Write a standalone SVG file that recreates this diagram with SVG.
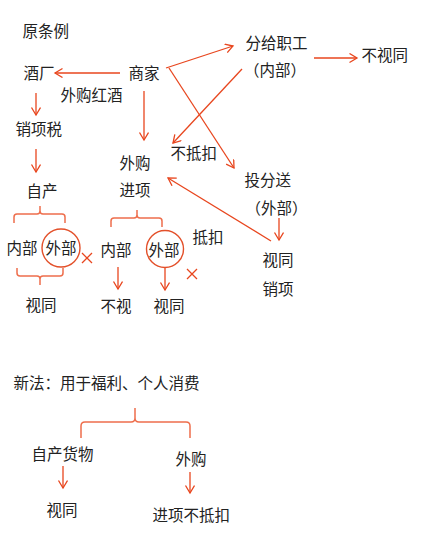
<svg xmlns="http://www.w3.org/2000/svg" width="426" height="538" viewBox="0 0 426 538">
<defs>
<style>
text{font-family:"Noto Sans CJK SC","Noto Sans CJK JP",sans-serif;font-size:15.5px;fill:#222}
.c{text-anchor:middle}
.a{stroke:#E8461E;stroke-width:1.3;fill:none}
.b{stroke:#EE6E4C;stroke-width:1.5;fill:none}
.o{stroke:#E3502A;stroke-width:1.4;fill:none}
</style>
<marker id="ah" markerUnits="userSpaceOnUse" markerWidth="12" markerHeight="12" refX="8" refY="5" orient="auto">
<path d="M0.5,0.5 L8,5 L0.5,9.5" fill="none" stroke="#E8461E" stroke-width="1.3"/>
</marker>
</defs>
<rect width="426" height="538" fill="#fff"/>
<g id="connectors">
<line class="a" x1="120" y1="73" x2="55" y2="73" marker-end="url(#ah)"/>
<line class="a" x1="36" y1="93" x2="36" y2="115" marker-end="url(#ah)"/>
<line class="a" x1="36" y1="149" x2="36" y2="172" marker-end="url(#ah)"/>
<line class="a" x1="144" y1="91" x2="144" y2="140" marker-end="url(#ah)"/>
<line class="a" x1="166" y1="68" x2="233" y2="46" marker-end="url(#ah)"/>
<line class="a" x1="242" y1="69" x2="173" y2="143" marker-end="url(#ah)"/>
<line class="a" x1="169" y1="68" x2="234" y2="168" marker-end="url(#ah)"/>
<line class="a" x1="314" y1="58" x2="357" y2="58" marker-end="url(#ah)"/>
<line class="a" x1="279" y1="218" x2="279" y2="240" marker-end="url(#ah)"/>
<line class="a" x1="271" y1="241" x2="168" y2="178" marker-end="url(#ah)"/>
<line class="a" x1="118" y1="267" x2="118" y2="289" marker-end="url(#ah)"/>
<line class="a" x1="165" y1="268" x2="165" y2="290" marker-end="url(#ah)"/>
<line class="a" x1="63" y1="466" x2="63" y2="488" marker-end="url(#ah)"/>
<line class="a" x1="190" y1="472" x2="190" y2="493" marker-end="url(#ah)"/>
</g>
<g id="brackets">
<path class="b" d="M14,223 L14,217 Q14,214 17,214 L37,214 Q40,214 40,211 L40,206 M40,211 Q40,214 43,214 L62,214 Q65,214 65,217 L65,223"/>
<path class="b" d="M17,268 L17,273 Q17,276 20,276 L37,276 Q40,276 40,279 L40,285 M40,279 Q40,276 43,276 L60,276 Q63,276 63,273 L63,268"/>
<path class="b" d="M111,227 L111,221 Q111,218 114,218 L134,218 Q137,218 137,215 L137,210 M137,215 Q137,218 140,218 L159,218 Q162,218 162,221 L162,227"/>
<path class="b" d="M81,438 L81,426 Q81,422 85,422 L131,422 Q135,422 135,418 L135,408 M135,418 Q135,422 139,422 L186,422 Q190,422 190,426 L190,438"/>
</g>
<g id="marks">
<circle class="o" cx="61" cy="248" r="19"/>
<circle class="o" cx="165" cy="249" r="18.5"/>
<path class="a" d="M82,253 L92,263 M92,253 L82,263"/>
<path class="a" d="M187,269 L197,279 M197,269 L187,279"/>
</g>
<g id="n-title"><text x="22.5" y="37">原条例</text></g>
<g id="n-jiuchang"><text x="23.5" y="79">酒厂</text></g>
<g id="n-shangjia"><text x="128.5" y="79">商家</text></g>
<g id="n-waigouhongjiu"><text x="60.5" y="101">外购红酒</text></g>
<g id="n-xiaoxiangshui"><text x="15.5" y="135">销项税</text></g>
<g id="n-waigou"><text x="119.5" y="169">外购</text></g>
<g id="n-jinxiang"><text x="119.5" y="196">进项</text></g>
<g id="n-zichan"><text x="26.5" y="197">自产</text></g>
<g id="n-neibu1"><text x="6.5" y="254">内部</text></g>
<g id="n-waibu1"><text x="45.5" y="254">外部</text></g>
<g id="n-neibu2"><text x="100.5" y="256">内部</text></g>
<g id="n-waibu2"><text x="148.5" y="256">外部</text></g>
<g id="n-shitong1"><text x="25.5" y="311">视同</text></g>
<g id="n-bushi"><text x="100.5" y="312">不视</text></g>
<g id="n-shitong2"><text x="153.5" y="312">视同</text></g>
<g id="n-dikou"><text x="192.5" y="243">抵扣</text></g>
<g id="n-budikou"><text x="170.5" y="159">不抵扣</text></g>
<g id="n-fengei"><text x="245.5" y="49">分给职工</text><text class="c" x="275" y="76">（内部）</text></g>
<g id="n-bushitong"><text x="361.5" y="61">不视同</text></g>
<g id="n-toufensong"><text x="244.5" y="186">投分送</text><text class="c" x="276.5" y="214">（外部）</text></g>
<g id="n-shitongxiaoxiang"><text x="262.5" y="266">视同</text><text x="262.5" y="295">销项</text></g>
<g id="n-xinfa"><text x="13.5" y="389">新法：用于福利、个人消费</text></g>
<g id="n-zichanhuowu"><text x="31.5" y="460">自产货物</text></g>
<g id="n-waigou2"><text x="175.5" y="465">外购</text></g>
<g id="n-shitong3"><text x="46.5" y="516">视同</text></g>
<g id="n-jinxiangbudikou"><text x="152.5" y="521">进项不抵扣</text></g>
</svg>
